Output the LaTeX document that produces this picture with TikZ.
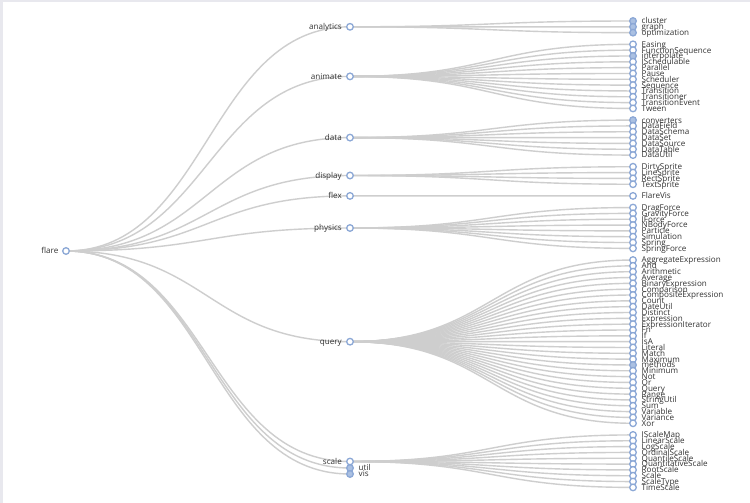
\documentclass[tikz,border=0pt]{standalone}
\usepackage{fontspec}
\setmainfont{Open Sans}
\usetikzlibrary{calc}
\pgfdeclarelayer{bg}\pgfdeclarelayer{edges}\pgfsetlayers{bg,edges,main}
\definecolor{edgec}{RGB}{206,206,206}
\definecolor{nodec}{RGB}{140,168,214}
\definecolor{fillc}{RGB}{170,192,226}
\definecolor{txt}{RGB}{50,50,50}
\definecolor{framec}{RGB}{232,232,238}
\tikzset{
 leafo/.style={circle,draw=nodec,fill=white,line width=1.3pt,minimum size=6.6pt,inner sep=0pt},
 leafc/.style={leafo,fill=fillc},
 lbl/.style={font=\fontsize{8.1}{8}\selectfont,text=txt,inner sep=0pt},
 link/.style={draw=edgec,line width=1.4pt},
}
\newcommand\tedge[2]{\draw[link] let \p1=(#1.center),\p2=(#2.center) in (\p1) .. controls ({(\x1+\x2)/2},\y1) and ({(\x1+\x2)/2},\y2) .. (\p2);}
\newcommand\grp[3]{%
 \foreach \nm/\st [count=\i from 0] in {#3} {
   \node[\st] (l-\nm) at (633,{21+5.83*(#2+\i)}) {};
   \node[lbl,anchor=base west] (t-\nm) at ($(l-\nm.center)+(8.5,2.9)$) {\nm};
   \begin{pgfonlayer}{edges}\tedge{#1}{l-\nm}\end{pgfonlayer}
 }}
\newcommand\midnode[3]{% name, y, style
 \node[#3] (#1) at (350,#2) {};
 \node[lbl,anchor=base east] (t-#1) at ($(#1.center)+(-8,2.9)$) {#1};
 \begin{pgfonlayer}{edges}\tedge{flare}{#1}\end{pgfonlayer}}
\begin{document}
\begin{tikzpicture}[x=1pt,y=-1pt]
\useasboundingbox (0,0) rectangle (750,503);
\begin{pgfonlayer}{bg}
\fill[framec] (0,0) rectangle (750,503);
\fill[white] (3,2.5) rectangle (750,503);
\end{pgfonlayer}
\node[leafo] (flare) at (66,251) {};
\node[lbl,anchor=base east] (t-flare) at ($(flare.center)+(-7.5,2.9)$) {flare};
\midnode{analytics}{26.8}{leafo}
\midnode{animate}{76.4}{leafo}
\midnode{data}{137.6}{leafo}
\midnode{display}{175.5}{leafo}
\midnode{flex}{195.9}{leafo}
\midnode{physics}{228}{leafo}
\midnode{query}{341.7}{leafo}
\midnode{scale}{461.5}{leafo}
\node[leafc] (util) at (350,468) {};
\node[lbl,anchor=base west] (t-util) at ($(util.center)+(8.5,2.9)$) {util};
\node[leafc] (vis) at (350,474) {};
\node[lbl,anchor=base west] (t-vis) at ($(vis.center)+(8.5,2.9)$) {vis};
\begin{pgfonlayer}{edges}\tedge{flare}{util}\tedge{flare}{vis}\end{pgfonlayer}
\grp{analytics}{0}{cluster/leafc,graph/leafc,optimization/leafc}
\grp{animate}{4}{Easing/leafo,FunctionSequence/leafo,interpolate/leafc,ISchedulable/leafo,Parallel/leafo,Pause/leafo,Scheduler/leafo,Sequence/leafo,Transition/leafo,Transitioner/leafo,TransitionEvent/leafo,Tween/leafo}
\grp{data}{17}{converters/leafc,DataField/leafo,DataSchema/leafo,DataSet/leafo,DataSource/leafo,DataTable/leafo,DataUtil/leafo}
\grp{display}{25}{DirtySprite/leafo,LineSprite/leafo,RectSprite/leafo,TextSprite/leafo}
\grp{flex}{30}{FlareVis/leafo}
\grp{physics}{32}{DragForce/leafo,GravityForce/leafo,IForce/leafo,NBodyForce/leafo,Particle/leafo,Simulation/leafo,Spring/leafo,SpringForce/leafo}
\grp{query}{41}{AggregateExpression/leafo,And/leafo,Arithmetic/leafo,Average/leafo,BinaryExpression/leafo,Comparison/leafo,CompositeExpression/leafo,Count/leafo,DateUtil/leafo,Distinct/leafo,Expression/leafo,ExpressionIterator/leafo,Fn/leafo,If/leafo,IsA/leafo,Literal/leafo,Match/leafo,Maximum/leafo,methods/leafc,Minimum/leafo,Not/leafo,Or/leafo,Query/leafo,Range/leafo,StringUtil/leafo,Sum/leafo,Variable/leafo,Variance/leafo,Xor/leafo}
\grp{scale}{71}{IScaleMap/leafo,LinearScale/leafo,LogScale/leafo,OrdinalScale/leafo,QuantileScale/leafo,QuantitativeScale/leafo,RootScale/leafo,Scale/leafo,ScaleType/leafo,TimeScale/leafo}
\end{tikzpicture}
\end{document}
